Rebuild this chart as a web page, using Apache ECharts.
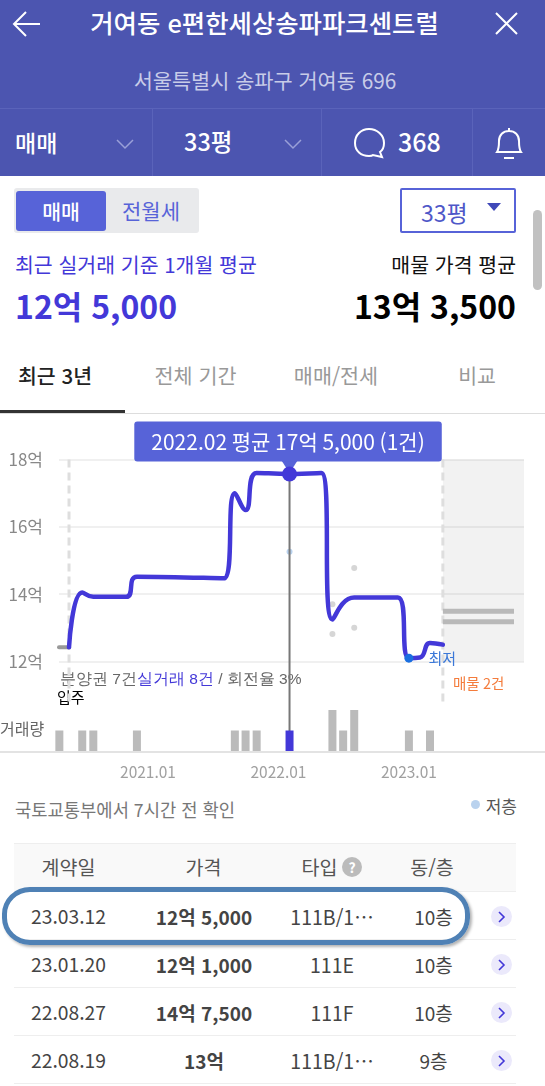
<!DOCTYPE html>
<html lang="ko">
<head>
<meta charset="utf-8">
<title>거여동 e편한세상송파파크센트럴</title>
<script src="https://cdn.jsdelivr.net/npm/echarts@6/dist/echarts.min.js"></script>
<style>
html, body { margin: 0; padding: 0; background: #fff; }
body { width: 545px; height: 1086px; position: relative; overflow: hidden; font-family: "Noto Sans CJK KR", "Noto Sans", sans-serif; }
.a { position: absolute; white-space: nowrap; line-height: 1; }
.c { transform: translateX(-50%); }
.r { transform: translateX(-100%); }
#chart { position: absolute; left: 0; top: 0; width: 545px; height: 1086px; }
#table { position: absolute; left: 14px; top: 843px; width: 502px; }
</style>
</head>
<body>
<!-- header -->
<div class="a" style="left:0;top:0;width:545px;height:176px;background:#4c55b0"></div>
<div class="a" style="left:0;top:108px;width:545px;height:1px;background:#5a63ba"></div>
<div class="a" style="left:152px;top:109px;width:1px;height:67px;background:#5a63ba"></div>
<div class="a" style="left:321px;top:109px;width:1px;height:67px;background:#5a63ba"></div>
<div class="a" style="left:472px;top:109px;width:1px;height:67px;background:#5a63ba"></div>
<svg class="a" style="left:0;top:0" width="545" height="176" fill="none" stroke="#fff" stroke-width="2">
  <path d="M15 24H40M26 12L14 24L26 36"/>
  <path d="M496 13L517 34M517 13L496 34"/>
  <path d="M117 140L125 148L133 140M285 140L293 148L301 140" stroke="#9aa0d8" stroke-width="1.5"/>
  <path d="M384 143C384 135 377 129 369 129C361 129 355 135 355 143C355 151 361 156 369 156C370 156 372 156 373 155L382 157L380 152C383 150 384 147 384 143Z"/>
  <path d="M497 152C499 149 499 146 499 141C499 135 503 131 509 131C515 131 519 135 519 141C519 146 519 149 521 152H497ZM504 158H514M509 131V128"/>
</svg>
<div class="a c" style="left:264.5px;top:10px;font-size:25.4px;font-weight:500;color:#fff">거여동 e편한세상송파파크센트럴</div>
<div class="a c" style="left:265px;top:70px;font-size:20.8px;color:#c8cce8">서울특별시 송파구 거여동 696</div>
<div class="a" style="left:15px;top:131px;font-size:23px;font-weight:500;color:#fff">매매</div>
<div class="a" style="left:184px;top:130px;font-size:23.5px;font-weight:500;color:#fff">33평</div>
<div class="a" style="left:398px;top:129px;font-size:25px;font-weight:500;color:#fff">368</div>

<!-- summary -->
<div class="a" style="left:14px;top:188px;width:185px;height:45px;background:#e9eaec;border-radius:3px"></div>
<div class="a" style="left:16px;top:191px;width:90px;height:40px;background:#5763d8;border-radius:3px"></div>
<div class="a c" style="left:61px;top:201px;font-size:20.5px;font-weight:500;color:#fff">매매</div>
<div class="a c" style="left:151px;top:200px;font-size:21px;color:#5763d8">전월세</div>
<div class="a" style="left:400px;top:188px;width:112px;height:41px;border:2.5px solid #5763d8;border-radius:2px"></div>
<div class="a" style="left:421px;top:201px;font-size:23px;color:#4f58c8">33평</div>
<svg class="a" style="left:486px;top:202px" width="16" height="10"><path d="M1 1H15L8 9Z" fill="#3f48b8"/></svg>
<div class="a" style="left:533px;top:210px;width:9px;height:80px;background:#c1c1c1;border-radius:5px"></div>
<div class="a" style="left:15px;top:254px;font-size:20.5px;color:#4338d8">최근 실거래 기준 1개월 평균</div>
<div class="a r" style="left:516px;top:254px;font-size:20.5px;color:#111">매물 가격 평균</div>
<div class="a" style="left:15px;top:289px;font-size:32px;font-weight:700;color:#4338d8">12억 5,000</div>
<div class="a r" style="left:516px;top:289px;font-size:32px;font-weight:700;color:#000">13억 3,500</div>

<!-- tabs -->
<div class="a" style="left:18px;top:365px;font-size:20.5px;font-weight:500;color:#222">최근 3년</div>
<div class="a c" style="left:195.5px;top:365px;font-size:20.7px;color:#999">전체 기간</div>
<div class="a c" style="left:336px;top:365px;font-size:20.7px;color:#999">매매/전세</div>
<div class="a c" style="left:477px;top:365px;font-size:20.5px;color:#999">비교</div>
<div class="a" style="left:0;top:413px;width:545px;height:1px;background:#ddd"></div>
<div class="a" style="left:0;top:410px;width:125px;height:3px;background:#333"></div>

<!-- chart baseline + footer -->
<div class="a" style="left:0;top:751px;width:545px;height:1.5px;background:#e3e3e3"></div>
<div class="a" style="left:15px;top:801px;font-size:17.7px;color:#777">국토교통부에서 7시간 전 확인</div>
<div class="a" style="left:471px;top:800px;width:9px;height:9px;border-radius:50%;background:#b9d2ee"></div>
<div class="a r" style="left:517px;top:797px;font-size:17px;color:#555">저층</div>

<div id="table"></div>
<div class="a" style="left:2px;top:887px;width:458px;height:48px;border:5px solid #4f81b5;border-radius:28px / 27px;box-shadow:2px 2px 3px rgba(0,0,0,.3)"></div>

<div id="chart"></div>

<script>
// 실거래 평균 (억)
var lineDates = ['2020-05-25','2020-07-01','2020-08-01','2020-11-01','2020-12-01','2021-08-01','2021-09-01','2021-10-01','2021-11-01','2022-02-01','2022-05-01','2022-06-01','2022-08-01','2022-12-01','2023-01-01','2023-02-01','2023-03-01','2023-04-06'];
var linePrices = [12.42,14.05,13.92,13.92,14.52,14.47,17.0,16.5,17.6,17.57,17.6,13.25,13.9,13.9,12.1,12.12,12.55,12.5];
// 분양권 구간
var presaleDates = ['2020-04-27','2020-05-25'];
var presalePrices = [12.42,12.42];
// 거래량
var volumeDates = ['2020-04-28','2020-07-01','2020-08-01','2020-12-01','2021-09-01','2021-10-01','2021-11-01','2022-02-01','2022-06-01','2022-07-01','2022-08-01','2023-01-01','2023-03-01'];
var volumeCounts = [1,1,1,1,1,1,1,1,2,1,2,1,1];
// 개별 거래 점
var grayDotDates = ['2022-08-01','2022-06-01','2022-06-01','2022-08-01'];
var grayDotPrices = [14.78,13.7,12.82,13.0];
var lowFloorDates = ['2022-02-01'];
var lowFloorPrices = [15.26];
// 매물 가격
var listingDates = ['2023-04-06','2023-10-22'];
var listingHigh = [13.49,13.49];
var listingLow = [13.18,13.18];
var selectedDate = '2022-02-01', selectedPrice = 17.57;
var lowestDate = '2023-01-01', lowestPrice = 12.1;
var moveInDate = '2020-05-25', todayDate = '2023-04-06';
var xLabelDates = ['2021-01-01','2022-01-01','2023-01-01'];
var xLabelTexts = ['2021.01','2022.01','2023.01'];
var xMin = '2020-04-27', xMax = '2023-11-19';
// 표
var tableHeader = ['계약일','가격','타입','동/층'];
var tableDates = ['23.03.12','23.01.20','22.08.27','22.08.19'];
var tablePrices = ['12억 5,000','12억 1,000','14억 7,500','13억'];
var tableTypes = ['111B/1…','111E','111F','111B/1…'];
var tableFloors = ['10층','10층','10층','9층'];

function pairs(xs, ys) {
    return xs.map(function (x, i) { return [x, ys[i]]; });
}
// time 축은 bar가 있으면 범위를 늘리므로 거래량 grid는 value 축에 timestamp로 그린다
function ts(d) {
    return +echarts.time.parse(d);
}

// table
var headCenters = [54.5, 189.5, 305.5, 418];
var colCenters = [54.5, 190, 318, 419.5];
var html = '<div style="position:relative;height:240px">';
html += '<div style="position:absolute;left:0;top:0;width:502px;height:48px;background:#f9f9f9;border-top:1px solid #eee;box-sizing:border-box"></div>';
tableHeader.forEach(function (t, i) {
    html += '<div class="a c" style="left:' + headCenters[i] + 'px;top:14px;font-size:19.5px;color:#555">' + t + '</div>';
});
html += '<div class="a" style="left:328px;top:14px;width:20px;height:20px;border-radius:50%;background:#bbb;color:#fff;font-size:14px;font-weight:700;text-align:center;line-height:20px">?</div>';
for (var i = 0; i < tableDates.length; i++) {
    var rowTop = 48 + i * 48;
    html += '<div style="position:absolute;left:0;top:' + rowTop + 'px;width:502px;height:48px;border-top:1px solid #eee;box-sizing:border-box"></div>';
    html += '<div class="a c" style="left:' + colCenters[0] + 'px;top:' + (rowTop + 16) + 'px;font-size:19.3px;color:#444">' + tableDates[i] + '</div>';
    html += '<div class="a c" style="left:' + colCenters[1] + 'px;top:' + (rowTop + 16) + 'px;font-size:19px;font-weight:700;color:#444">' + tablePrices[i] + '</div>';
    html += '<div class="a c" style="left:' + colCenters[2] + 'px;top:' + (rowTop + 16) + 'px;font-size:19.5px;color:#444">' + tableTypes[i] + '</div>';
    html += '<div class="a c" style="left:' + colCenters[3] + 'px;top:' + (rowTop + 16) + 'px;font-size:19px;color:#444">' + tableFloors[i] + '</div>';
    html += '<svg class="a" style="left:476.5px;top:' + (rowTop + 15) + 'px" width="21" height="21"><circle cx="10.5" cy="10.5" r="10.5" fill="#ebe9fb"/><path d="M8 6L13 11L8 16" fill="none" stroke="#4338d8" stroke-width="1.6"/></svg>';
}
html += '<div style="position:absolute;left:0;top:240px;width:502px;border-top:1px solid #eee"></div></div>';
document.getElementById('table').innerHTML = html;

var myChart = echarts.init(document.getElementById('chart'));

var gridLeft = 59, gridWidth = 465;
var axisColor = '#888';

var option = {
    animation: false,
    grid: [
        { left: gridLeft, top: 459.5, width: gridWidth, height: 202 },
        { left: gridLeft, top: 710, width: gridWidth, height: 41 },
        // 세로 점선/커서용 겹침 grid
        { left: gridLeft, top: 459.5, width: gridWidth, height: 291.5 }
    ],
    xAxis: [
        { type: 'time', gridIndex: 0, min: xMin, max: xMax, axisLabel: { show: false }, axisLine: { show: false }, axisTick: { show: false }, splitLine: { show: false } },
        { type: 'value', gridIndex: 1, min: ts(xMin), max: ts(xMax), axisLabel: { show: false }, axisLine: { show: false }, axisTick: { show: false }, splitLine: { show: false } },
        { type: 'time', gridIndex: 2, min: xMin, max: xMax, show: false }
    ],
    yAxis: [
        {
            type: 'value', gridIndex: 0, min: 12, max: 18, interval: 2,
            axisLine: { show: false }, axisTick: { show: false },
            axisLabel: { color: axisColor, fontSize: 17, margin: 16, formatter: '{value}억' },
            splitLine: { lineStyle: { color: '#ebebeb', width: 1.5 } }
        },
        { type: 'value', gridIndex: 1, min: 0, max: 2, show: false },
        { type: 'value', gridIndex: 2, min: 9.34, max: 18, show: false }
    ],
    graphic: [
        { type: 'text', left: 0, top: 721, style: { text: '거래량', fill: '#666', fontSize: 16, fontFamily: 'Noto Sans CJK KR' } },
        {
            type: 'text', left: 60, top: 672,
            style: {
                text: '{g|분양권 7건}{b|실거래 8건}{g| / 회전율 3%}',
                fontFamily: 'Noto Sans CJK KR',
                rich: { g: { fill: '#666', fontSize: 15.5 }, b: { fill: '#4338d8', fontSize: 15.5 } }
            }
        },
        { type: 'text', left: 57, top: 690, style: { text: '입주', fill: '#000', fontSize: 15, fontFamily: 'Noto Sans CJK KR' } },
        { type: 'text', left: 453, top: 676, style: { text: '매물 2건', fill: '#f47c3c', fontSize: 14.5, fontFamily: 'Noto Sans CJK KR' } }
    ],
    textStyle: { fontFamily: 'Noto Sans CJK KR' },
    series: [
        {
            name: '분양권', type: 'line', xAxisIndex: 0, yAxisIndex: 0, clip: false, z: 3,
            data: pairs(presaleDates, presalePrices), symbol: 'none',
            lineStyle: { color: '#999', width: 4, cap: 'round' }
        },
        {
            name: '매물상', type: 'line', xAxisIndex: 0, yAxisIndex: 0, z: 3,
            data: pairs(listingDates, listingHigh), symbol: 'none',
            lineStyle: { color: '#b9b9b9', width: 5 },
            markArea: {
                silent: true,
                itemStyle: { color: 'rgba(0,0,0,0.05)' },
                data: [[{ xAxis: todayDate }, { xAxis: xMax }]]
            }
        },
        {
            name: '매물하', type: 'line', xAxisIndex: 0, yAxisIndex: 0, z: 3,
            data: pairs(listingDates, listingLow), symbol: 'none',
            lineStyle: { color: '#b9b9b9', width: 5 }
        },
        {
            name: '입주선', type: 'line', xAxisIndex: 2, yAxisIndex: 2, z: 2, symbol: 'none',
            data: [[moveInDate, 18], [moveInDate, 10.71]],
            lineStyle: { color: '#dedede', width: 3, type: [8, 5] }
        },
        {
            name: '기준선', type: 'line', xAxisIndex: 2, yAxisIndex: 2, z: 2, symbol: 'none',
            data: [[todayDate, 18], [todayDate, 10.71]],
            lineStyle: { color: '#dedede', width: 3, type: [8, 5] }
        },
        {
            name: '거래량', type: 'bar', xAxisIndex: 1, yAxisIndex: 1, clip: false, barWidth: 8, z: 5,
            data: volumeDates.map(function (d, i) {
                return {
                    value: [ts(d), volumeCounts[i]],
                    itemStyle: { color: d === selectedDate ? '#4338d8' : '#bbbbbb' }
                };
            })
        },
        {
            name: 'x라벨', type: 'scatter', xAxisIndex: 1, yAxisIndex: 1, clip: false, symbolSize: 0,
            data: xLabelDates.map(function (d, i) { return { value: [ts(d), 0], name: xLabelTexts[i] }; }),
            label: { show: true, position: 'bottom', distance: 13, formatter: '{b}', color: axisColor, fontSize: 15.5 }
        },
        {
            name: '커서', type: 'line', xAxisIndex: 2, yAxisIndex: 2, z: 4, symbol: 'none',
            data: [[selectedDate, selectedPrice], [selectedDate, 9.34]],
            lineStyle: { color: '#777', width: 2 }
        },
        {
            name: '거래', type: 'scatter', xAxisIndex: 0, yAxisIndex: 0, z: 3, symbolSize: 6,
            data: pairs(grayDotDates, grayDotPrices), itemStyle: { color: '#d6d6d6', opacity: 1 }
        },
        {
            name: '저층', type: 'scatter', xAxisIndex: 0, yAxisIndex: 0, z: 3, symbolSize: 6,
            data: pairs(lowFloorDates, lowFloorPrices), itemStyle: { color: '#b9d2ee', opacity: 1 }
        },
        {
            name: '실거래', type: 'line', xAxisIndex: 0, yAxisIndex: 0, z: 5,
            data: pairs(lineDates, linePrices), symbol: 'none',
            smooth: 0.5,
            lineStyle: { color: '#4338d8', width: 4.5, cap: 'round' }
        },
        {
            name: '말풍선꼬리', type: 'scatter', xAxisIndex: 0, yAxisIndex: 0, z: 6,
            data: [[selectedDate, selectedPrice]], symbol: 'triangle', symbolRotate: 180,
            symbolSize: [18, 14], symbolOffset: [0, -8], itemStyle: { color: '#5763d8', opacity: 1 }
        },
        {
            name: '선택', type: 'scatter', xAxisIndex: 0, yAxisIndex: 0, z: 7, symbolSize: 15,
            data: [[selectedDate, selectedPrice]], itemStyle: { color: '#4338d8', opacity: 1 },
            label: {
                show: true, position: 'top', distance: 5, offset: [-1.5, 0],
                formatter: '2022.02 평균 17억 5,000 (1건)',
                color: '#fff', fontSize: 21, backgroundColor: '#5763d8', borderRadius: 3,
                padding: [10, 17, 9, 17]
            }
        },
        {
            name: '최저', type: 'scatter', xAxisIndex: 0, yAxisIndex: 0, z: 7, symbolSize: 9,
            data: [[lowestDate, lowestPrice]], itemStyle: { color: '#1a6fe0', opacity: 1 },
            label: { show: true, position: 'right', distance: 15, formatter: '최저', color: '#3b78d8', fontSize: 15 }
        }
    ]
};

myChart.setOption(option);
</script>
</body>
</html>
